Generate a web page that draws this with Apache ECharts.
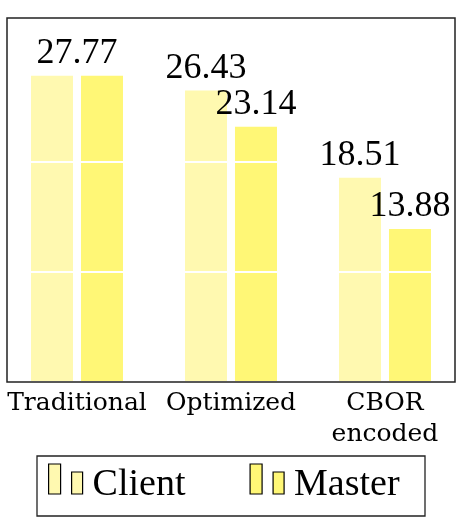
<!DOCTYPE html>
<html>
<head>
<meta charset="utf-8">
<script src="https://cdn.jsdelivr.net/npm/echarts@6/dist/echarts.min.js"></script>
<style>html,body{margin:0;padding:0;background:#fff}#c{width:474px;height:528px}</style>
</head>
<body>
<div id="c"></div>
<script>
const categories = ['Traditional', 'Optimized', 'CBOR\nencoded'];
const seriesNames = ['Client', 'Master'];
const clientValues = [27.77, 26.43, 18.51];
const masterValues = [27.77, 23.14, 13.88];
const yTicks = [0, 10, 20, 30];

const clientColor = '#FFF9B0';
const masterColor = '#FFF776';
const serif = 'Liberation Serif';

const labelStyle = {
  show: true, position: 'top', distance: 4,
  fontFamily: serif, fontSize: 36, color: '#000',
  formatter: p => p.value[1].toFixed(2)
};

// label-only series drawn above the white grid lines
const clientLabels = clientValues.map((v, i) => {
  const d = { value: [i, v] };
  // identical values in the first group share one centred label
  if (masterValues[i] === v) d.label = { offset: [0, 0] };
  return d;
});
const masterLabels = masterValues.map((v, i) => {
  const d = { value: [i, v] };
  if (clientValues[i] === v) d.label = { show: false };
  return d;
});

const chart = echarts.init(document.getElementById('c'));
chart.setOption({
  animation: false,
  backgroundColor: '#fff',
  grid: { left: 0, top: 18, width: 462, height: 364 },
  xAxis: {
    type: 'category', data: categories,
    axisLine: { show: false }, axisTick: { show: false },
    axisLabel: { interval: 0, hideOverlap: false, fontFamily: 'DejaVu Serif', fontSize: 25, color: '#000', margin: 6, lineHeight: 31 }
  },
  yAxis: {
    type: 'value', min: yTicks[0], max: 33, interval: 10, z: 5,
    axisLine: { show: false }, axisTick: { show: false }, axisLabel: { show: false },
    splitLine: { show: true, lineStyle: { color: '#fff', width: 2 } }
  },
  legend: {
    data: seriesNames, left: 48, top: 454,
    padding: 0,
    itemWidth: 34, itemHeight: 30, itemGap: 64,
    icon: 'path://M0,0h12v30h-12z M23,8h11v22h-11z',
    itemStyle: { borderColor: '#000', borderWidth: 1.2 },
    formatter: '{t|{name}}',
    textStyle: {
      color: '#000',
      rich: { t: { fontFamily: serif, fontSize: 38, color: '#000', lineHeight: 30, padding: [12, 0, 0, 5] } }
    }
  },
  graphic: [{
    type: 'rect', z: 100, silent: true,
    shape: { x: 7, y: 18, width: 448, height: 364 },
    style: { fill: 'none', stroke: '#222', lineWidth: 1.5 }
  }, {
    type: 'rect', z: 100, silent: true,
    shape: { x: 37, y: 456, width: 388, height: 60 },
    style: { fill: 'none', stroke: '#222', lineWidth: 1.3 }
  }],
  series: [
    { name: seriesNames[0], type: 'bar', data: clientValues, barWidth: 42, barGap: '19%',
      itemStyle: { color: clientColor } },
    { name: seriesNames[1], type: 'bar', data: masterValues, barWidth: 42, barGap: '19%',
      itemStyle: { color: masterColor } },
    { type: 'scatter', z: 20, symbolSize: 0, silent: true, data: clientLabels,
      itemStyle: { opacity: 1, color: 'rgba(0,0,0,0)' },
      label: Object.assign({}, labelStyle, { offset: [-25, 0] }) },
    { type: 'scatter', z: 20, symbolSize: 0, silent: true, data: masterLabels,
      itemStyle: { opacity: 1, color: 'rgba(0,0,0,0)' },
      label: Object.assign({}, labelStyle, { offset: [25, 0] }) }
  ]
});
</script>
</body>
</html>
